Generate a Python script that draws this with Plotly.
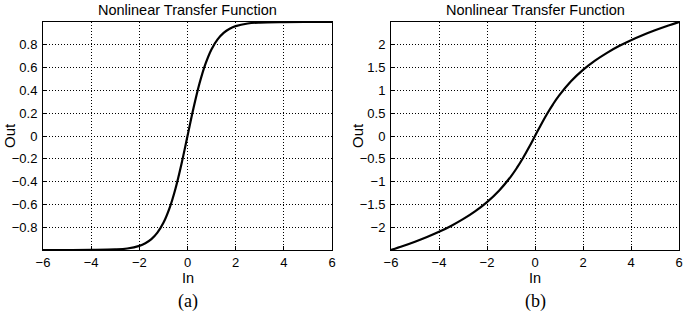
import plotly.graph_objects as go

# Values
x_a = [-6, -5, -4, -3, -2.5, -2, -1.75, -1.5, -1.25, -1, -0.75, -0.5, -0.25, 0,
       0.25, 0.5, 0.75, 1, 1.25, 1.5, 1.75, 2, 2.5, 3, 4, 5, 6]
y_a = [-1.0, -1.0, -0.999, -0.995, -0.987, -0.964, -0.941, -0.905, -0.848, -0.762, -0.635, -0.462, -0.245, 0.0,
       0.245, 0.462, 0.635, 0.762, 0.848, 0.905, 0.941, 0.964, 0.987, 0.995, 0.999, 1.0, 1.0]

x_b = [-6, -5.5, -5, -4.5, -4, -3.5, -3, -2.5, -2, -1.5, -1, -0.75, -0.5, -0.25, 0,
       0.25, 0.5, 0.75, 1, 1.5, 2, 2.5, 3, 3.5, 4, 4.5, 5, 5.5, 6]
y_b = [-2.492, -2.406, -2.312, -2.209, -2.095, -1.966, -1.818, -1.647, -1.444, -1.195, -0.881, -0.693, -0.481, -0.247, 0.0,
       0.247, 0.481, 0.693, 0.881, 1.195, 1.444, 1.647, 1.818, 1.966, 2.095, 2.209, 2.312, 2.406, 2.492]

x_ticks = [-6, -4, -2, 0, 2, 4, 6]
x_ticktext = ["\u22126", "\u22124", "\u22122", "0", "2", "4", "6"]
ya_ticks = [-0.8, -0.6, -0.4, -0.2, 0, 0.2, 0.4, 0.6, 0.8]
ya_ticktext = ["\u22120.8", "\u22120.6", "\u22120.4", "\u22120.2", "0", "0.2", "0.4", "0.6", "0.8"]
yb_ticks = [-2, -1.5, -1, -0.5, 0, 0.5, 1, 1.5, 2]
yb_ticktext = ["\u22122", "\u22121.5", "\u22121", "\u22120.5", "0", "0.5", "1", "1.5", "2"]

title = "Nonlinear Transfer Function"
W, H = 685, 311
SANS = "Liberation Sans, Arial, sans-serif"

fig = go.Figure()
fig.add_trace(go.Scatter(x=x_a, y=y_a, mode="lines", line=dict(color="black", width=2.2, shape="spline"),
                         xaxis="x", yaxis="y", showlegend=False, hoverinfo="skip"))
fig.add_trace(go.Scatter(x=x_b, y=y_b, mode="lines", line=dict(color="black", width=2.2, shape="spline"),
                         xaxis="x2", yaxis="y2", showlegend=False, hoverinfo="skip"))

font = dict(family=SANS, size=13, color="black")
common = dict(showline=True, mirror=True, linecolor="black", linewidth=1,
              showgrid=True, gridcolor="black", griddash="1px,2px", gridwidth=1,
              ticks="inside", ticklen=4, tickcolor="black", zeroline=False,
              tickfont=font, automargin=False)

ydom = [1 - 250 / H, 1 - 22 / H]
xa_dom = [43 / W, 332 / W]
xb_dom = [391 / W, 679 / W]
fig.update_layout(
    width=W, height=H, margin=dict(l=0, r=0, t=0, b=0, autoexpand=False),
    paper_bgcolor="white", plot_bgcolor="white", font=font,
    xaxis=dict(domain=xa_dom, range=[-6, 6], tickvals=x_ticks, ticktext=x_ticktext,
               anchor="y", ticklabelstandoff=0, **common),
    yaxis=dict(domain=ydom, range=[-1, 1], tickvals=ya_ticks, ticktext=ya_ticktext,
               anchor="x", ticklabelstandoff=2, **common),
    xaxis2=dict(domain=xb_dom, range=[-6, 6], tickvals=x_ticks, ticktext=x_ticktext,
                anchor="y2", ticklabelstandoff=0, **common),
    yaxis2=dict(domain=ydom, range=[-2.4918, 2.4918], tickvals=yb_ticks, ticktext=yb_ticktext,
                anchor="x2", ticklabelstandoff=2, **common),
)

ann = []
for dom, lab in [(xa_dom, "(a)"), (xb_dom, "(b)")]:
    cx = (dom[0] + dom[1]) / 2
    ann.append(dict(text=title, x=cx, y=1 - 10 / H, xref="paper", yref="paper", showarrow=False,
                    xanchor="center", yanchor="middle",
                    font=dict(family=SANS, size=14.5, color="black")))
    ann.append(dict(text="In", x=cx, y=1 - 278 / H, xref="paper", yref="paper", showarrow=False,
                    xanchor="center", yanchor="middle",
                    font=dict(family=SANS, size=14.5, color="black")))
    ann.append(dict(text=lab, x=cx, y=1 - 301 / H, xref="paper", yref="paper", showarrow=False,
                    xanchor="center", yanchor="middle",
                    font=dict(family="Liberation Serif, Times New Roman, serif", size=18, color="black")))
for lx in [9, 357]:
    ann.append(dict(text="Out", x=lx / W, y=1 - 136 / H, xref="paper", yref="paper", showarrow=False,
                    textangle=-90, xanchor="center", yanchor="middle",
                    font=dict(family=SANS, size=15, color="black")))
fig.update_layout(annotations=ann)

fig.write_html("out.html", config={"displayModeBar": False},
               post_script="document.body.style.margin='0px';document.body.style.overflow='hidden';")
